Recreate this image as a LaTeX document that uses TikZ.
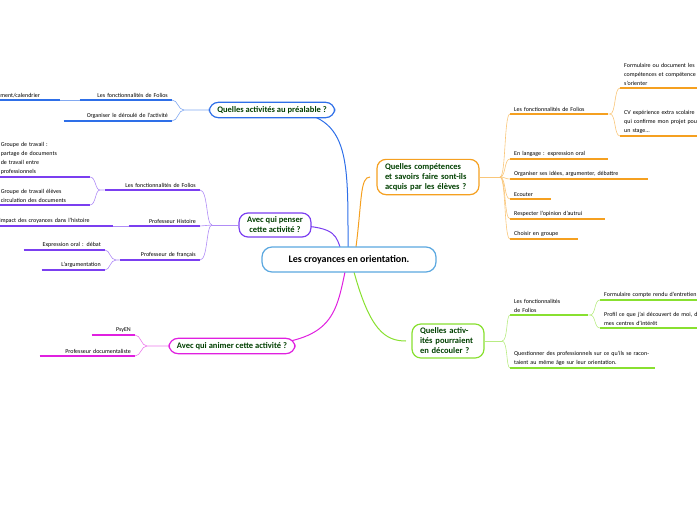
\documentclass[tikz,border=0pt]{standalone}
\usepackage{fontspec}
\setmainfont{Carlito}
\begin{document}
\begin{tikzpicture}[x=1pt,y=-1pt,
  box/.style={draw=#1,line width=1.2pt,rounded corners=9pt,fill=white,font=\fontsize{8.5}{10}\selectfont\bfseries,text=green!25!black,inner xsep=8pt,inner ysep=4pt},
  leafL/.style={anchor=south east,font=\fontsize{6}{9}\selectfont,inner xsep=4pt,inner ysep=2pt,align=left,text width=#1},
  leafR/.style={anchor=south west,font=\fontsize{6}{9}\selectfont,inner xsep=4pt,inner ysep=2pt,align=left,text width=#1},
  ul/.style={draw=#1,line width=1.3pt},
  cn/.style={draw=#1,line width=0.6pt}]
\useasboundingbox (0,0) rectangle (697,520);
\definecolor{cb}{HTML}{2E6FE8}\definecolor{cp}{HTML}{7B3FF0}\definecolor{cm}{HTML}{E020E0}
\definecolor{co}{HTML}{F5A020}\definecolor{cg}{HTML}{88E030}\definecolor{cc}{HTML}{5BA8E0}
\coordinate (c1) at (348,247);\coordinate (c2) at (340,247);\coordinate (c3) at (345,272);
\coordinate (c4) at (356,247);\coordinate (c5) at (354,272);
\coordinate (bb) at (272,110);\coordinate (pp) at (275,225);\coordinate (mm) at (232,346);
\coordinate (oo) at (370,177);\coordinate (gg) at (406,341);
\draw[cn=cb,line width=1pt] (c1) .. controls (348,150) and (350,110) .. (bb);
\draw[cn=cp,line width=1pt] (c2) .. controls (335,232) and (332,225) .. (pp);
\draw[cn=cm,line width=1pt] (c3) .. controls (335,320) and (330,346) .. (mm);
\draw[cn=co,line width=1pt] (c4) .. controls (362,200) and (360,177) .. (oo);
\draw[cn=cg,line width=1pt] (c5) .. controls (370,330) and (385,341) .. (gg);
% central
\node[draw=cc,line width=1.2pt,rounded corners=10pt,fill=white,font=\fontsize{10}{12}\selectfont\bfseries,minimum width=174pt,minimum height=25pt] (c) at (349,259.5) {Les croyances en orientation.};
% main boxes
\node[box=cb] (b) at (272,110) {Quelles activités au préalable ?};
\node[box=cp,align=center] (p) at (275,225) {Avec qui penser\\cette activité ?};
\node[box=cm] (m) at (232,346) {Avec qui animer cette activité ?};
\node[box=co,align=left,text width=86pt] (o) at (428,177) {Quelles compétences et savoirs faire sont-ils acquis par les élèves ?};
\node[box=cg,align=left,text width=56pt] (g) at (448,341) {Quelles activités pourraient en découler ?};
% blue leaves
\node[leafL=84pt,align=right] (b1) at (172,100) {Les fonctionnalités de Folios};
\node[leafL=70pt] (b11) at (60,100) {Evénement/calendrier};
\node[leafL=100pt,align=right] (b2) at (172,121) {Organiser le déroulé de l'activité};
\foreach \n in {b1,b11,b2}{\draw[ul=cb] (\n.south west)--(\n.south east);}
\coordinate (bf) at (184,110);
\draw[cn=cb!60] (b.west)--(bf) (bf) .. controls (178,110) and (178,100) .. (b1.south east);
\draw[cn=cb!60] (bf) .. controls (178,110) and (178,121) .. (b2.south east);
\draw[cn=cb!60] (b1.south west)--(b11.south east);
% purple leaves
\node[leafL=87pt,align=right] (p1) at (200,190) {Les fonctionnalités de Folios};
\node[leafL=85pt] (p11) at (90,177) {Groupe de travail :\\partage de documents\\de travail entre\\professionnels};
\node[leafL=85pt] (p12) at (90,205) {Groupe de travail élèves\\circulation des documents};
\node[leafL=63pt,align=right] (p2) at (200,226) {Professeur Histoire};
\node[leafL=113pt] (p21) at (113,226) {L'impact des croyances dans l'histoire};
\node[leafL=72pt,align=right] (p3) at (200,260) {Professeur de français};
\node[leafL=73pt,align=right] (p31) at (105,250) {Expression oral : débat};
\node[leafL=55pt,align=right] (p32) at (105,270) {L'argumentation};
\foreach \n in {p1,p11,p12,p2,p21,p3,p31,p32}{\draw[ul=cp] (\n.south west)--(\n.south east);}
\coordinate (pf) at (212,225);
\draw[cn=cp!60] (p.west)--(pf);
\draw[cn=cp!60] (pf) .. controls (206,225) and (208,190) .. (p1.south east);
\draw[cn=cp!60] (pf) .. controls (206,225) and (206,226) .. (p2.south east);
\draw[cn=cp!60] (pf) .. controls (206,225) and (208,260) .. (p3.south east);
\coordinate (pf1) at (100,190);
\draw[cn=cp!60] (p1.south west)--(pf1) .. controls (95,190) and (96,177) .. (p11.south east);
\draw[cn=cp!60] (pf1) .. controls (95,190) and (96,205) .. (p12.south east);
\draw[cn=cp!60] (p2.south west)--(p21.south east);
\coordinate (pf3) at (116,260);
\draw[cn=cp!60] (p3.south west)--(pf3) .. controls (110,260) and (110,250) .. (p31.south east);
\draw[cn=cp!60] (pf3) .. controls (110,260) and (110,270) .. (p32.south east);
% magenta leaves
\node[leafL=35pt,align=right] (m1) at (135,335) {PsyEN};
\node[leafL=87pt,align=right] (m2) at (135,356) {Professeur documentaliste};
\foreach \n in {m1,m2}{\draw[ul=cm] (\n.south west)--(\n.south east);}
\coordinate (mf) at (147,346);
\draw[cn=cm!60] (m.west)--(mf) .. controls (141,346) and (141,335) .. (m1.south east);
\draw[cn=cm!60] (mf) .. controls (141,346) and (141,356) .. (m2.south east);
% orange leaves
\node[leafR=90pt] (o1) at (510,114) {Les fonctionnalités de Folios};
\node[leafR=80pt] (o11) at (620,88) {Formulaire ou document les compétences et compétence à s'orienter};
\node[leafR=80pt] (o12) at (620,136) {CV expérience extra scolaire qui confirme mon projet pour un stage...};
\node[leafR=90pt] (o2) at (510,159) {En langage : expression oral};
\node[leafR=130pt] (o3) at (510,179) {Organiser ses idées, argumenter, débattre};
\node[leafR=33pt] (o4) at (510,199) {Ecouter};
\node[leafR=87pt] (o5) at (510,219) {Respecter l'opinion d'autrui};
\node[leafR=60pt] (o6) at (510,239) {Choisir en groupe};
\foreach \n in {o1,o11,o12,o2,o3,o4,o5,o6}{\draw[ul=co] (\n.south west)--(\n.south east);}
\coordinate (of) at (500,177);
\coordinate (ox) at (504,0);
\draw[cn=co!60] (o.east)--(of);
\foreach \n in {o1,o2,o3,o4,o5,o6}{\draw[cn=co!60] (of) .. controls (506,177) and (ox|-\n.south west) .. (\n.south west);}
\coordinate (of1) at (610,114);
\draw[cn=co!60] (o1.south east)--(of1) .. controls (616,114) and (614,88) .. (o11.south west);
\draw[cn=co!60] (of1) .. controls (616,114) and (614,136) .. (o12.south west);
% green leaves
\node[leafR=70pt] (g1) at (510,315) {Les fonctionnalités\\de Folios};
\node[leafR=97pt] (g11) at (600,300) {Formulaire compte rendu d'entretien};
\node[leafR=97pt] (g12) at (600,328) {Profil ce que j'ai découvert de moi, de mes centres d'intérêt};
\node[leafR=137pt] (g2) at (510,368) {Questionner des professionnels sur ce qu'ils se racontaient au même âge sur leur orientation.};
\foreach \n in {g1,g11,g12,g2}{\draw[ul=cg] (\n.south west)--(\n.south east);}
\coordinate (gf) at (502,341);
\draw[cn=cg!60] (g.east)--(gf);
\draw[cn=cg!60] (gf) .. controls (508,341) and (506,315) .. (g1.south west);
\draw[cn=cg!60] (gf) .. controls (508,341) and (506,368) .. (g2.south west);
\coordinate (gf1) at (590,315);
\draw[cn=cg!60] (g1.south east)--(gf1) .. controls (596,315) and (594,300) .. (g11.south west);
\draw[cn=cg!60] (gf1) .. controls (596,315) and (594,328) .. (g12.south west);
\end{tikzpicture}
\end{document}
